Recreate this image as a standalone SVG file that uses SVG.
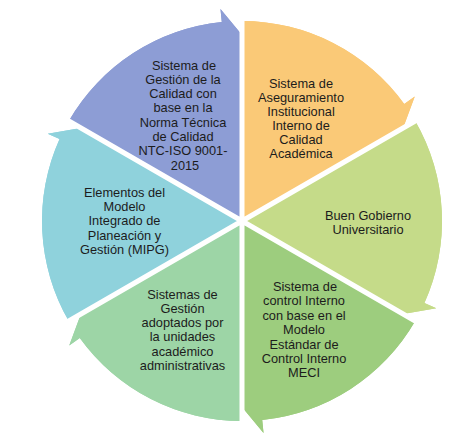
<svg xmlns="http://www.w3.org/2000/svg" xmlns:xlink="http://www.w3.org/1999/xlink" width="474" height="444" viewBox="0 0 474 444">
<defs>
<radialGradient id="shade" gradientUnits="userSpaceOnUse" cx="242" cy="221" r="215">
<stop offset="0" stop-color="#000" stop-opacity="0.07"/>
<stop offset="0.5" stop-color="#fff" stop-opacity="0"/>
<stop offset="1" stop-color="#fff" stop-opacity="0.18"/>
</radialGradient>
</defs>
<style>
.lbl{font-family:"Liberation Sans",Arial,sans-serif;font-size:12.8px;fill:#1c1c1c;text-anchor:middle}
.gap{stroke:#fff;stroke-width:5;stroke-linecap:butt}
</style>
<rect width="474" height="444" fill="#fff"/>
<g id="node-iso9001">
<path id="w1" fill="#8d9dd5" d="M242,221 L68.79,121 A200,200 0 0 1 221.79,22.02 L220.47,9.09 L242,35 Z"/>
<use xlink:href="#w1" fill="url(#shade)"/>
<text class="lbl"><tspan x="184" y="69.5">Sistema de</tspan><tspan x="183" y="83.8">Gestión de la</tspan><tspan x="183" y="98.1">Calidad con</tspan><tspan x="183" y="112.4">base en la</tspan><tspan x="183" y="126.7">Norma Técnica</tspan><tspan x="183" y="141">de Calidad</tspan><tspan x="183" y="155.3">NTC-ISO 9001-</tspan><tspan x="185" y="169.6">2015</tspan></text>
</g>
<g id="node-aseguramiento">
<path id="w2" fill="#fac977" d="M242,221 L242,21 A200,200 0 0 1 404.21,104.01 L414.76,96.4 L403.08,128 Z"/>
<use xlink:href="#w2" fill="url(#shade)"/>
<text class="lbl"><tspan x="301" y="87.5">Sistema de</tspan><tspan x="301" y="101.6">Aseguramiento</tspan><tspan x="301" y="115.7">Institucional</tspan><tspan x="301" y="129.8">Interno de</tspan><tspan x="301" y="143.9">Calidad</tspan><tspan x="301" y="158">Académica</tspan></text>
</g>
<g id="node-buen-gobierno">
<path id="w3" fill="#c5db89" d="M242,221 L415.21,121 A200,200 0 0 1 424.42,302.98 L436.28,308.31 L403.08,314 Z"/>
<use xlink:href="#w3" fill="url(#shade)"/>
<text class="lbl"><tspan x="368" y="219.5">Buen Gobierno</tspan><tspan x="368" y="234.2">Universitario</tspan></text>
</g>
<g id="node-meci">
<path id="w4" fill="#9dcd7e" d="M242,221 L415.21,321 A200,200 0 0 1 262.21,419.98 L263.53,432.91 L242,407 Z"/>
<use xlink:href="#w4" fill="url(#shade)"/>
<text class="lbl"><tspan x="305" y="291">Sistema de</tspan><tspan x="304" y="305.4">control Interno</tspan><tspan x="304" y="319.8">con base en el</tspan><tspan x="304" y="334.2">Modelo</tspan><tspan x="304" y="348.6">Estándar de</tspan><tspan x="304" y="363">Control Interno</tspan><tspan x="304" y="377.4">MECI</tspan></text>
</g>
<g id="node-sistemas-gestion">
<path id="w5" fill="#9dd5a6" d="M242,221 L242,421 A200,200 0 0 1 79.79,337.99 L69.24,345.6 L80.92,314 Z"/>
<use xlink:href="#w5" fill="url(#shade)"/>
<text class="lbl"><tspan x="182.5" y="298.5">Sistemas de</tspan><tspan x="182.5" y="312.8">Gestión</tspan><tspan x="182.5" y="327.1">adoptados por</tspan><tspan x="182.5" y="341.4">la unidades</tspan><tspan x="182.5" y="355.7">académico</tspan><tspan x="182.5" y="370">administrativas</tspan></text>
</g>
<g id="node-mipg">
<path id="w6" fill="#8fd2dc" d="M242,221 L68.79,321 A200,200 0 0 1 59.58,139.02 L47.72,133.69 L80.92,128 Z"/>
<use xlink:href="#w6" fill="url(#shade)"/>
<text class="lbl"><tspan x="124.5" y="196.8">Elementos del</tspan><tspan x="124.5" y="211.1">Modelo</tspan><tspan x="124.5" y="225.4">Integrado de</tspan><tspan x="124.5" y="239.7">Planeación y</tspan><tspan x="124.5" y="254">Gestión (MIPG)</tspan></text>
</g>
<g id="connectors">
<path class="gap" d="M242,221 L242,17 M242,221 L418.67,119 M242,221 L418.67,323 M242,221 L242,425 M242,221 L65.33,323 M242,221 L65.33,119"/>
</g>
</svg>
